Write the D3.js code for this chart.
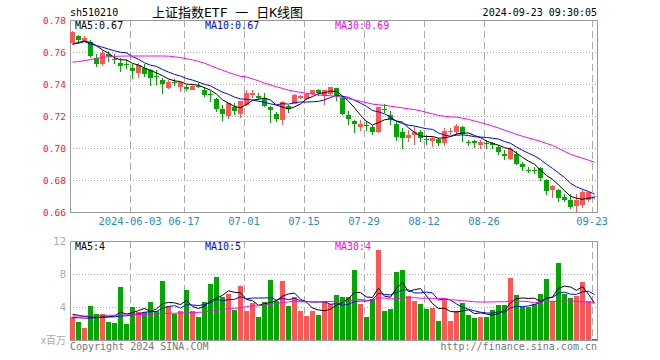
<!DOCTYPE html>
<html><head><meta charset="utf-8">
<script src="https://cdn.jsdelivr.net/npm/d3@7"></script>
<style>body{margin:0;background:#fff}svg{display:block}</style>
</head><body><svg id="c" width="660" height="360"></svg>
<script>
const dates = [
"2024-05-20","2024-05-21","2024-05-22","2024-05-23","2024-05-24","2024-05-27","2024-05-28","2024-05-29","2024-05-30","2024-05-31",
"2024-06-03","2024-06-04","2024-06-05","2024-06-06","2024-06-07","2024-06-11","2024-06-12","2024-06-13","2024-06-14",
"2024-06-17","2024-06-18","2024-06-19","2024-06-20","2024-06-21","2024-06-24","2024-06-25","2024-06-26","2024-06-27","2024-06-28",
"2024-07-01","2024-07-02","2024-07-03","2024-07-04","2024-07-05","2024-07-08","2024-07-09","2024-07-10","2024-07-11","2024-07-12",
"2024-07-15","2024-07-16","2024-07-17","2024-07-18","2024-07-19","2024-07-22","2024-07-23","2024-07-24","2024-07-25","2024-07-26",
"2024-07-29","2024-07-30","2024-07-31","2024-08-01","2024-08-02","2024-08-05","2024-08-06","2024-08-07","2024-08-08","2024-08-09",
"2024-08-12","2024-08-13","2024-08-14","2024-08-15","2024-08-16","2024-08-19","2024-08-20","2024-08-21","2024-08-22","2024-08-23",
"2024-08-26","2024-08-27","2024-08-28","2024-08-29","2024-08-30","2024-09-02","2024-09-03","2024-09-04","2024-09-05","2024-09-06",
"2024-09-09","2024-09-10","2024-09-11","2024-09-12","2024-09-13","2024-09-18","2024-09-19","2024-09-20","2024-09-23"];

const open = [0.7660,0.7700,0.7670,0.7665,0.7565,0.7525,0.7585,0.7558,0.7533,0.7527,
0.7502,0.7465,0.7497,0.7485,0.7452,0.7425,0.7375,0.7410,0.7380,0.7380,
0.7363,0.7390,0.7363,0.7337,0.7306,0.7244,0.7196,0.7258,0.7211,0.7270,
0.7328,0.7327,0.7308,0.7254,0.7213,0.7177,0.7264,0.7275,0.7313,0.7306,
0.7333,0.7360,0.7323,0.7333,0.7375,0.7313,0.7206,0.7167,0.7131,0.7142,
0.7131,0.7100,0.7242,0.7204,0.7152,0.7100,0.7063,0.7079,0.7100,0.7058,
0.7046,0.7058,0.7031,0.7102,0.7100,0.7130,0.7040,0.7042,0.7021,0.7033,
0.7031,0.7004,0.6965,0.6933,0.6965,0.6900,0.6862,0.6860,0.6875,0.6802,
0.6738,0.6740,0.6694,0.6677,0.6640,0.6642,0.6677,0.6698];
const high = [0.7730,0.7705,0.7700,0.7675,0.7590,0.7610,0.7605,0.7590,0.7560,0.7550,
0.7527,0.7530,0.7525,0.7495,0.7487,0.7440,0.7425,0.7430,0.7415,0.7395,
0.7393,0.7405,0.7383,0.7356,0.7314,0.7270,0.7280,0.7280,0.7296,0.7362,
0.7362,0.7344,0.7344,0.7265,0.7225,0.7296,0.7267,0.7335,0.7333,0.7342,
0.7362,0.7367,0.7365,0.7380,0.7377,0.7323,0.7229,0.7177,0.7173,0.7167,
0.7146,0.7258,0.7275,0.7229,0.7169,0.7125,0.7115,0.7129,0.7110,0.7080,
0.7070,0.7063,0.7125,0.7125,0.7150,0.7135,0.7052,0.7052,0.7052,0.7052,
0.7040,0.7017,0.6990,0.7004,0.6979,0.6913,0.6879,0.6883,0.6883,0.6804,
0.6767,0.6744,0.6715,0.6713,0.6713,0.6740,0.6727,0.6705];
const low = [0.7660,0.7655,0.7660,0.7560,0.7505,0.7510,0.7540,0.7525,0.7477,0.7495,
0.7430,0.7440,0.7445,0.7390,0.7392,0.7340,0.7370,0.7385,0.7350,0.7355,
0.7360,0.7372,0.7320,0.7290,0.7227,0.7170,0.7180,0.7206,0.7186,0.7262,
0.7315,0.7298,0.7256,0.7157,0.7163,0.7142,0.7221,0.7272,0.7305,0.7302,
0.7330,0.7325,0.7270,0.7330,0.7292,0.7205,0.7146,0.7094,0.7104,0.7104,
0.7079,0.7092,0.7219,0.7146,0.7044,0.6996,0.7038,0.7021,0.7040,0.7021,
0.7008,0.7013,0.7010,0.7079,0.7083,0.7040,0.7012,0.7000,0.6996,0.6996,
0.6996,0.6954,0.6923,0.6927,0.6892,0.6854,0.6846,0.6840,0.6796,0.6704,
0.6688,0.6665,0.6660,0.6620,0.6600,0.6625,0.6660,0.6675];
const close = [0.7727,0.7675,0.7690,0.7580,0.7525,0.7595,0.7570,0.7553,0.7513,0.7522,
0.7486,0.7517,0.7462,0.7435,0.7447,0.7398,0.7415,0.7405,0.7410,0.7368,
0.7388,0.7385,0.7333,0.7333,0.7244,0.7210,0.7280,0.7231,0.7294,0.7344,
0.7343,0.7313,0.7265,0.7233,0.7183,0.7288,0.7246,0.7333,0.7327,0.7340,
0.7360,0.7340,0.7360,0.7379,0.7330,0.7215,0.7180,0.7150,0.7150,0.7138,
0.7100,0.7256,0.7238,0.7177,0.7073,0.7063,0.7080,0.7098,0.7063,0.7055,
0.7063,0.7031,0.7104,0.7106,0.7135,0.7088,0.7036,0.7027,0.7038,0.7029,
0.7017,0.6975,0.6954,0.6996,0.6900,0.6881,0.6858,0.6856,0.6813,0.6733,
0.6760,0.6688,0.6673,0.6635,0.6675,0.6725,0.6725,0.6690];
const volume = [2.75,2.18,1.45,4.12,3.11,3.11,2.18,2.06,6.42,1.94,
4.00,3.39,3.39,4.60,3.47,7.15,4.12,3.19,3.51,6.06,
3.51,2.79,4.60,6.79,7.64,5.25,5.58,3.64,6.55,3.51,
4.53,2.79,4.65,7.27,4.69,7.15,4.12,5.25,3.51,2.91,
3.51,3.03,4.77,4.40,5.45,5.21,5.21,8.48,4.36,2.79,
4.97,10.91,3.51,3.76,8.24,8.48,5.33,4.73,4.36,3.76,
3.92,2.30,4.97,2.30,3.51,4.48,3.03,2.67,2.79,2.79,
3.64,4.24,4.24,7.52,5.45,4.00,4.00,4.36,5.58,7.39,
4.73,9.33,5.58,5.09,5.33,7.03,4.73,0.12];

// moving-average values read from the chart where earlier history is not shown
const ma5Head = [0.7648,0.7660,0.7668,0.7660];
const ma10Head = [0.7650,0.7655,0.7665,0.7650,0.7640,0.7630,0.7618,0.7608,0.7598];
const ma30Head = [0.7537,0.7540,0.7546,0.7553,0.7560,0.7567,0.7571,0.7573,0.7574,0.7575,
0.7575,0.7575,0.7575,0.7575,0.7575,0.7575,0.7574,0.7570,0.7565,0.7558,
0.7551,0.7541,0.7530,0.7515,0.7500,0.7486,0.7472,0.7460,0.7448];
const vma5Head = [3.10,3.00,2.85,2.80];
const vma10Head = [2.70,2.70,2.65,2.65,2.70,2.75,2.80,2.80,2.90];
const vma30Head = [2.90,2.90,2.90,2.92,2.95,2.97,3.00,3.00,3.02,3.05,
3.05,3.08,3.10,3.12,3.15,3.20,3.22,3.25,3.27,3.30,
3.32,3.35,3.40,3.50,3.60,3.70,3.80,3.85,3.90];

const priceTicks = [0.66,0.68,0.70,0.72,0.74,0.76,0.78];
const volTicks = [4,8,12];
const dateTicks = ["2024-06-03","2024-06-17","2024-07-01","2024-07-15","2024-07-29","2024-08-12","2024-08-26","2024-09-23"];
const dateTickLabels = ["2024-06-03","06-17","07-01","07-15","07-29","08-12","08-26","09-23"];
const priceMaLabels = ["MA5:0.67","MA10:0.67","MA30:0.69"];
const volMaLabels = ["MA5:4","MA10:5","MA30:4"];
const titleText = "上证指数ETF 一 日K线图";
const codeText = "sh510210";
const timeText = "2024-09-23 09:30:05";

function movingAvg(arr, n, head){
  return arr.map((v,i)=> i < n-1 ? head[i] : d3.mean(arr.slice(i-n+1, i+1)));
}

const RED="#ff5555", GREEN="#00a800", GRID="#aaaaaa", BORDER="#999999";
const MONO="'DejaVu Sans Mono', monospace";
const svg = d3.select("#c");
const L=70, R=597;
const x = d3.scaleBand().domain(dates).range([L, L+6*dates.length-1]).paddingInner(1/6).paddingOuter(0);
const cx = d => x(d) + 2.5;
const y = d3.scaleLinear().domain([0.66,0.78]).range([212,20]);
const yv = d3.scaleLinear().domain([0,12]).range([340,241]);

function panel(ys, top, bottom, ticks){
  const g = svg.append("g");
  g.selectAll("line.h").data(ticks).join("line")
    .attr("x1",L).attr("x2",R)
    .attr("y1",d=>Math.round(ys(d))+0.5).attr("y2",d=>Math.round(ys(d))+0.5)
    .attr("stroke",GRID).attr("stroke-dasharray","1,2");
  g.selectAll("line.v").data(dateTicks).join("line")
    .attr("x1",d=>x(d)+0.5).attr("x2",d=>x(d)+0.5)
    .attr("y1",top).attr("y2",bottom)
    .attr("stroke",GRID).attr("stroke-dasharray","7,4");
  g.append("path").attr("d",`M${L+0.5},${bottom}V${top+0.5}H${R+0.5}V${bottom}`)
    .attr("fill","none").attr("stroke",BORDER);
  g.append("line").attr("x1",L).attr("x2",R+1).attr("y1",bottom+0.5).attr("y2",bottom+0.5)
    .attr("stroke",BORDER);
}

panel(y, 20, 212, priceTicks.filter(t=>t>0.66 && t<0.78));
panel(yv, 241, 340, volTicks.filter(t=>t<12));

const ya = svg.append("g").attr("transform",`translate(${L-4},0)`)
  .call(d3.axisLeft(y).tickValues(priceTicks).tickSize(0).tickPadding(0).tickFormat(d3.format(".2f")));
ya.select(".domain").remove();
ya.selectAll("text").attr("fill","#ff2020").style("font-family",MONO).style("font-size","9.5px");

const va = svg.append("g").attr("transform",`translate(${L-4},0)`)
  .call(d3.axisLeft(yv).tickValues(volTicks).tickSize(0).tickPadding(0));
va.select(".domain").remove();
va.selectAll("text").attr("fill","#aaaaaa").style("font-family","'DejaVu Sans', sans-serif").style("font-size","10px");
svg.append("text").attr("x",L-4).attr("y",344).attr("text-anchor","end")
  .attr("fill","#aaaaaa").style("font-family","'Noto Sans CJK SC', sans-serif").style("font-size","10px").text("x百万");

svg.append("g").selectAll("text").data(dateTicks).join("text")
  .attr("x",d=>x(d)).attr("y",225).attr("text-anchor","middle")
  .attr("fill","#1e8ad2").style("font-family",MONO).style("font-size","10.5px")
  .text((d,i)=>dateTickLabels[i]);

const n = dates.length;
const candleColor = i => i===n-1 ? "#b0b0b0" : (close[i] >= open[i] ? RED : GREEN);
const cg = svg.append("g").attr("shape-rendering","crispEdges");
cg.selectAll("line").data(dates).join("line")
  .attr("x1",d=>cx(d)).attr("x2",d=>cx(d))
  .attr("y1",(d,i)=>y(high[i])).attr("y2",(d,i)=>y(low[i]))
  .attr("stroke",(d,i)=>candleColor(i));
cg.selectAll("rect").data(dates).join("rect")
  .attr("x",d=>x(d)).attr("width",x.bandwidth())
  .attr("y",(d,i)=>Math.round(y(Math.max(open[i],close[i]))))
  .attr("height",(d,i)=>Math.max(1,Math.round(Math.abs(y(open[i])-y(close[i])))))
  .attr("fill",(d,i)=>candleColor(i));

const pLine = d3.line().x((v,i)=>cx(dates[i])).y(v=>y(v));
[[movingAvg(close,5,ma5Head),"#000000"],[movingAvg(close,10,ma10Head),"#0000ff"],[movingAvg(close,30,ma30Head),"#ff00ff"]]
 .forEach(([s,c])=>svg.append("path").attr("d",pLine(s)).attr("fill","none").attr("stroke",c).attr("stroke-width",1));

svg.append("g").attr("shape-rendering","crispEdges").selectAll("rect").data(dates).join("rect")
  .attr("x",d=>x(d)).attr("width",x.bandwidth())
  .attr("y",(d,i)=>Math.round(yv(volume[i])))
  .attr("height",(d,i)=>340-Math.round(yv(volume[i])))
  .attr("fill",(d,i)=> close[i] >= open[i] ? RED : GREEN);

const vLine = d3.line().x((v,i)=>cx(dates[i])).y(v=>yv(v));
[[movingAvg(volume,5,vma5Head),"#000000"],[movingAvg(volume,10,vma10Head),"#0000ff"],[movingAvg(volume,30,vma30Head),"#ff00ff"]]
 .forEach(([s,c])=>svg.append("path").attr("d",vLine(s)).attr("fill","none").attr("stroke",c).attr("stroke-width",1));

const maCols = ["#000000","#0000ff","#ff00ff"], maX=[75,205,335];
priceMaLabels.forEach((t,i)=>svg.append("text").attr("x",maX[i]).attr("y",29).attr("fill",maCols[i])
  .style("font-family",MONO).style("font-size","10px").text(t));
volMaLabels.forEach((t,i)=>svg.append("text").attr("x",maX[i]).attr("y",250).attr("fill",maCols[i])
  .style("font-family",MONO).style("font-size","10px").text(t));

svg.append("text").attr("x",70).attr("y",16).style("font-family",MONO).style("font-size","10px").text(codeText);
svg.append("text").attr("x",152).attr("y",17).attr("xml:space","preserve")
  .style("font-family","'DejaVu Sans Mono', 'Noto Sans CJK SC', sans-serif").style("font-size","13px").text(titleText);
svg.append("text").attr("x",R).attr("y",16).attr("text-anchor","end").style("font-family",MONO).style("font-size","10px").text(timeText);

svg.append("text").attr("x",70).attr("y",350).attr("fill","#777777").style("font-family",MONO).style("font-size","10px").text("Copyright 2024 SINA.COM");
svg.append("text").attr("x",R).attr("y",350).attr("text-anchor","end").attr("fill","#777777").style("font-family",MONO).style("font-size","10px").text("http://finance.sina.com.cn");
</script></body></html>
